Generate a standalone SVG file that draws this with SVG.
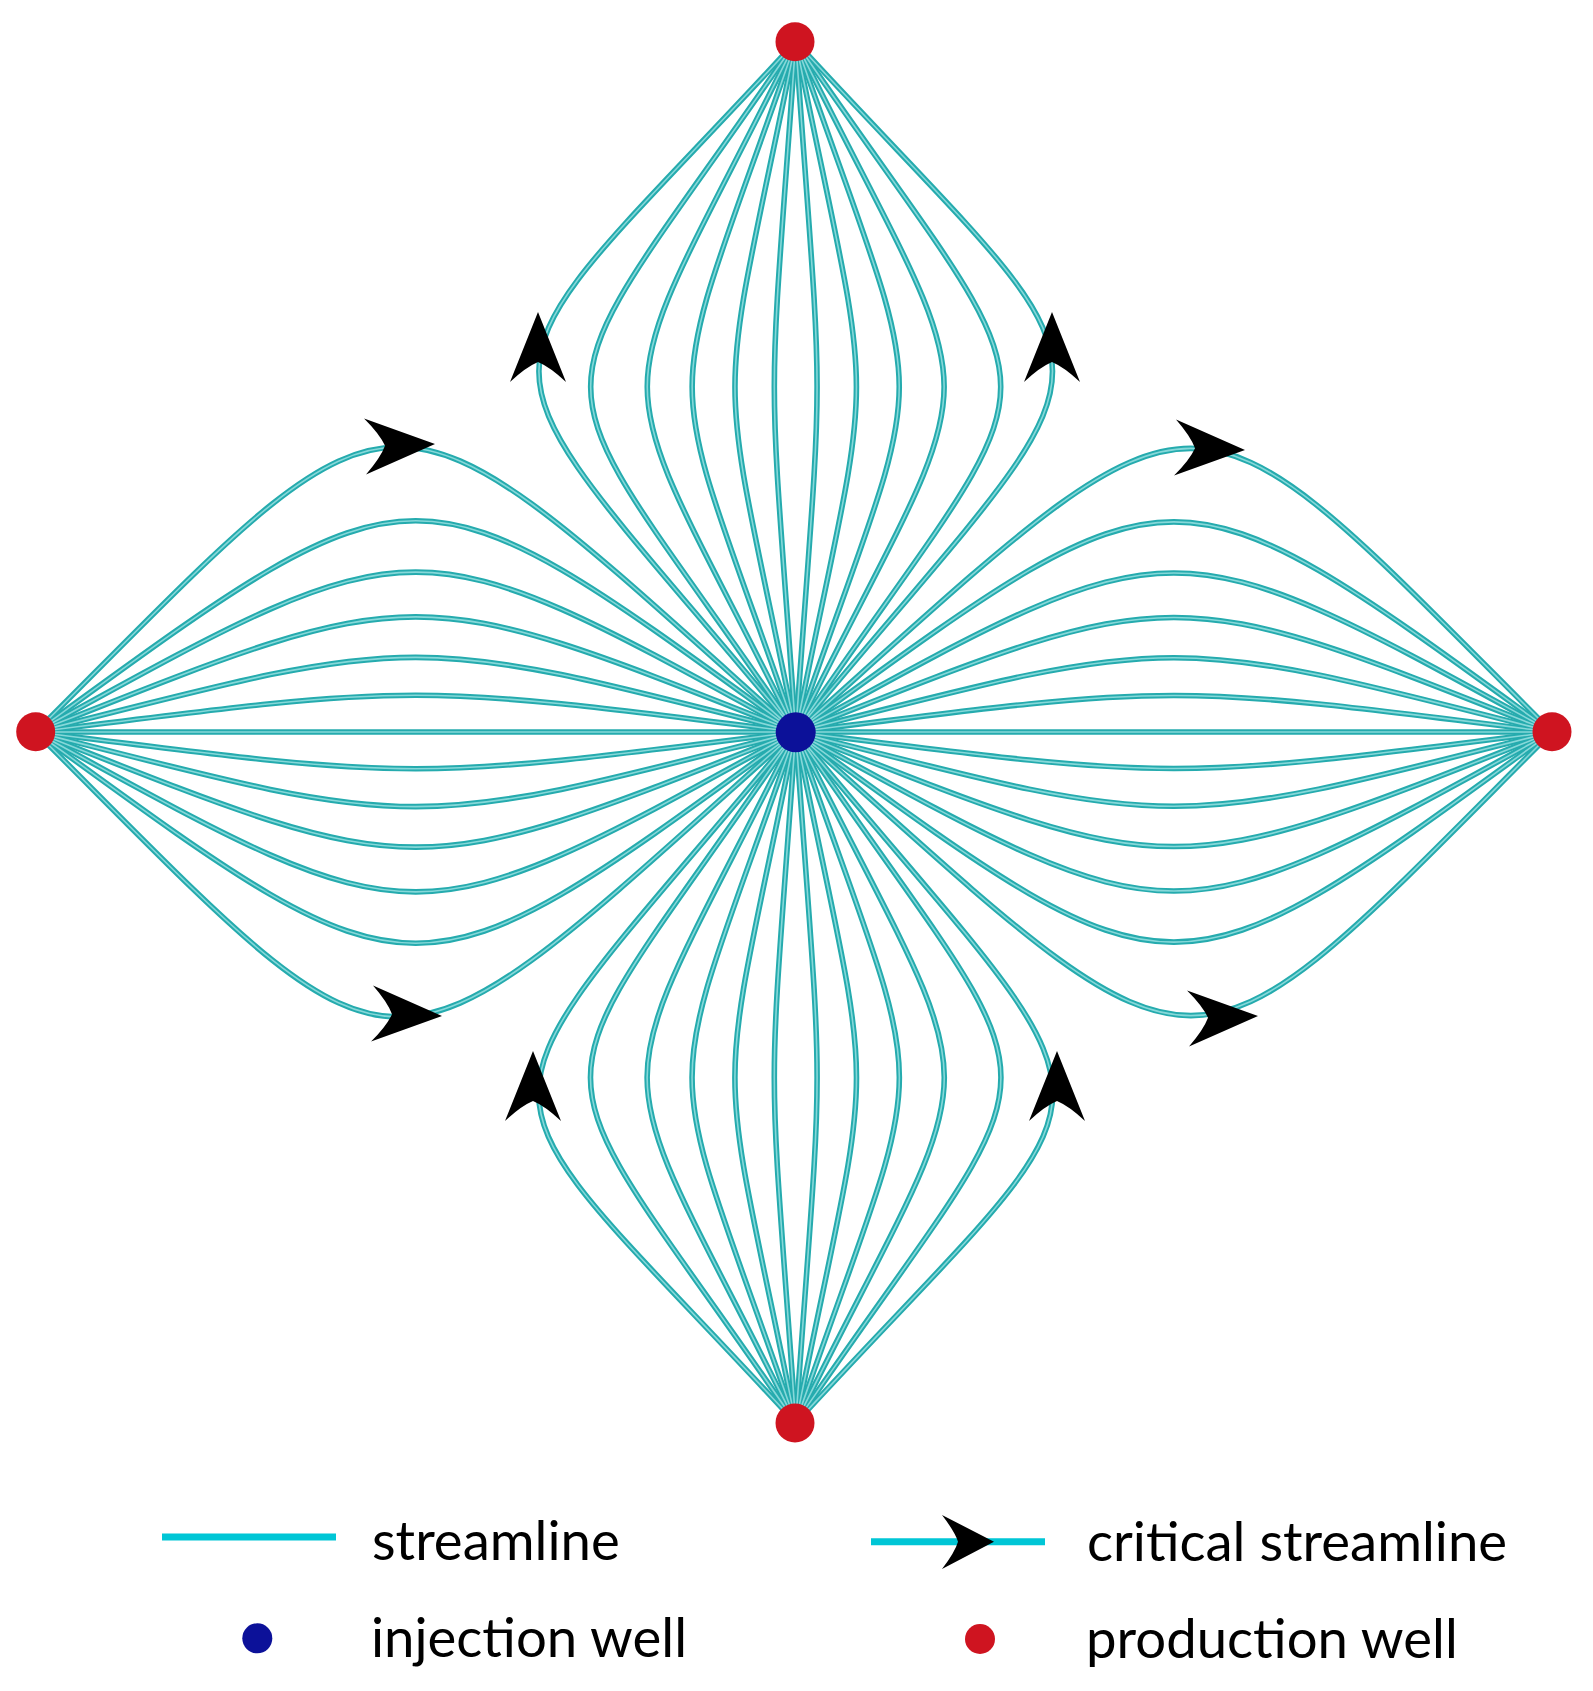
<svg xmlns="http://www.w3.org/2000/svg" xmlns:xlink="http://www.w3.org/1999/xlink" width="1593" height="1691" viewBox="0 0 1593 1691">
<style>
.sl path{fill:none;vector-effect:non-scaling-stroke;stroke-linecap:round}
.to{stroke:#25abae;stroke-width:5.6}
.ti{stroke:#86d8d9;stroke-width:1.6}
.arr{fill:#000}
.prod{fill:#cf1420}
.inj{fill:#0c1199}
.lg{font-family:Lato,"Liberation Sans",sans-serif;font-size:54.5px;fill:#000}
</style>
<defs>
<g id="H" class="sl">
<path d="M0,0 L100,0"/>
<path d="M0,0 C51,6.44 49,6.44 100,0"/><path d="M0,0 C51,-6.44 49,-6.44 100,0"/>
<path d="M0,0 C51,13.1 49,13.1 100,0"/><path d="M0,0 C51,-13.1 49,-13.1 100,0"/>
<path d="M0,0 C51,20.19 49,20.19 100,0"/><path d="M0,0 C51,-20.19 49,-20.19 100,0"/>
<path d="M0,0 C51,28.04 49,28.04 100,0"/><path d="M0,0 C51,-28.04 49,-28.04 100,0"/>
<path d="M0,0 C51,37.05 49,37.05 100,0"/><path d="M0,0 C51,-37.05 49,-37.05 100,0"/>
<path d="M0,0 C56,50 50,50 100,0"/><path d="M0,0 C56,-50 50,-50 100,0"/>
</g>
<g id="V" class="sl">
<path d="M0,0 C58,4.13 42,4.13 100,0"/><path d="M0,0 C58,-4.13 42,-4.13 100,0"/>
<path d="M0,0 C58,11.73 42,11.73 100,0"/><path d="M0,0 C58,-11.73 42,-11.73 100,0"/>
<path d="M0,0 C58,20 42,20 100,0"/><path d="M0,0 C58,-20 42,-20 100,0"/>
<path d="M0,0 C58,28.67 42,28.67 100,0"/><path d="M0,0 C58,-28.67 42,-28.67 100,0"/>
<path d="M0,0 C58,39.6 42,39.6 100,0"/><path d="M0,0 C58,-39.6 42,-39.6 100,0"/>
<path d="M0,0 C60,49.6 46,49.6 100,0"/><path d="M0,0 C60,-49.6 46,-49.6 100,0"/>
</g>
<path id="arrow" d="M0,0 L-70,-28 Q-55,-12 -50,0 Q-55,12 -70,28 Z"/>
</defs>
<rect width="1593" height="1691" fill="#ffffff"/>
<g id="connectors">
<g id="streamlines-outer" class="to">
<use xlink:href="#H" transform="translate(795.7,732) scale(7.563)"/>
<use xlink:href="#H" transform="translate(795.7,732) scale(-7.6,7.6)"/>
<use xlink:href="#V" transform="translate(795.7,732) rotate(-90) scale(6.903)"/>
<use xlink:href="#V" transform="translate(795.7,732) rotate(90) scale(6.91)"/>
</g>
<g id="streamlines-inner" class="ti">
<use xlink:href="#H" transform="translate(795.7,732) scale(7.563)"/>
<use xlink:href="#H" transform="translate(795.7,732) scale(-7.6,7.6)"/>
<use xlink:href="#V" transform="translate(795.7,732) rotate(-90) scale(6.903)"/>
<use xlink:href="#V" transform="translate(795.7,732) rotate(90) scale(6.91)"/>
</g>
<g id="arrows" class="arr">
<use xlink:href="#arrow" transform="translate(1245,450) rotate(2)"/>
<use xlink:href="#arrow" transform="translate(1258,1016) rotate(-2)"/>
<use xlink:href="#arrow" transform="translate(435,444) rotate(-2)"/>
<use xlink:href="#arrow" transform="translate(442,1016) rotate(2)"/>
<use xlink:href="#arrow" transform="translate(1052,312) rotate(-90)"/>
<use xlink:href="#arrow" transform="translate(538,312) rotate(-90)"/>
<use xlink:href="#arrow" transform="translate(1057,1051) rotate(-90)"/>
<use xlink:href="#arrow" transform="translate(533,1051) rotate(-90)"/>
</g>
</g>
<g id="well-injection"><circle class="inj" cx="795.7" cy="732.3" r="20"/></g>
<g id="well-production-top"><circle class="prod" cx="795" cy="41.7" r="19.5"/></g>
<g id="well-production-left"><circle class="prod" cx="35.7" cy="731.7" r="19.5"/></g>
<g id="well-production-right"><circle class="prod" cx="1552" cy="731.7" r="19.5"/></g>
<g id="well-production-bottom"><circle class="prod" cx="795" cy="1423" r="19.5"/></g>
<g id="legend">
<line x1="162" y1="1537" x2="336" y2="1537" stroke="#00c6d6" stroke-width="7"/>
<text class="lg" x="372" y="1560">streamline</text>
<line x1="871" y1="1541.7" x2="1045" y2="1541.7" stroke="#00c6d6" stroke-width="7"/>
<path class="arr" d="M994,1541.7 L942,1515 Q955,1532 958,1541.7 Q955,1552 942,1569 Z"/>
<text class="lg" x="1087" y="1561">critical streamline</text>
<circle class="inj" cx="257.3" cy="1638.3" r="15"/>
<text class="lg" x="371" y="1657">injection well</text>
<circle class="prod" cx="980" cy="1639" r="15"/>
<text class="lg" x="1086" y="1658">production well</text>
</g>
</svg>
